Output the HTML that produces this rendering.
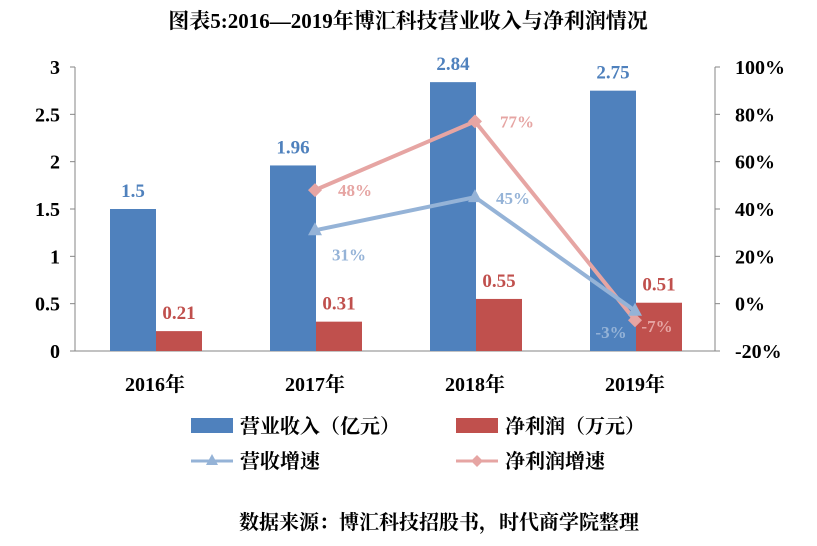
<!DOCTYPE html>
<html><head><meta charset="utf-8">
<style>
body{margin:0;background:#fff;width:817px;height:541px;overflow:hidden}
svg text{font-family:"Liberation Serif","Noto Serif CJK SC",serif;font-weight:bold}
</style></head>
<body>
<svg id="chart" width="817" height="541">
<text x="408" y="28" text-anchor="middle" font-size="21" fill="#000">图表5:2016—2019年博汇科技营业收入与净利润情况</text>
<g id="axes"></g>
<g id="bars"></g>
<g id="lines"></g>
<g>
 <rect x="191" y="418" width="42" height="15" fill="#4f81bd"/>
 <text x="240" y="433" font-size="20">营业收入（亿元）</text>
 <rect x="456" y="418" width="42" height="15" fill="#c0504d"/>
 <text x="505" y="433" font-size="20">净利润（万元）</text>
 <line x1="191" y1="461" x2="233" y2="461" stroke="#95b3d7" stroke-width="3"/>
 <polygon points="212,454 218,465 206,465" fill="#95b3d7"/>
 <text x="240" y="468" font-size="20">营收增速</text>
 <line x1="456" y1="461" x2="498" y2="461" stroke="#e6a5a3" stroke-width="3"/>
 <polygon points="477,455 483,461 477,467 471,461" fill="#e6a5a3"/>
 <text x="505" y="468" font-size="20">净利润增速</text>
</g>
<text x="439" y="529" text-anchor="middle" font-size="20">数据来源：博汇科技招股书，时代商学院整理</text>
</svg>
<script>
const categories=["2016年","2017年","2018年","2019年"];
const revenue=[1.5,1.96,2.84,2.75];
const profit=[0.21,0.31,0.55,0.51];
const revGrowth=[null,31,45,-3];
const profitGrowth=[null,48,77,-7];
const leftTicks=[0,0.5,1,1.5,2,2.5,3];
const rightTicks=[-20,0,20,40,60,80,100];
const NS="http://www.w3.org/2000/svg";
const L=75,R=715,T=67,B=351;
const yL=v=>B-(v/3)*(B-T);
const yR=v=>B-((v+20)/120)*(B-T);
const xC=i=>L+(i+0.5)*(R-L)/categories.length;
function mk(tag,attrs,parent,txt){const e=document.createElementNS(NS,tag);for(const k in attrs)e.setAttribute(k,attrs[k]);if(txt!==undefined)e.textContent=txt;parent.appendChild(e);return e;}
const ax=document.getElementById('axes'),bg=document.getElementById('bars'),lg=document.getElementById('lines');
let e;
e=mk('line',{x1:L,y1:T,x2:L,y2:B,stroke:'#868686'},ax);


e=mk('line',{x1:R,y1:T,x2:R,y2:B,stroke:'#868686'},ax);


e=mk('line',{x1:L,y1:B,x2:R,y2:B,stroke:'#868686'},ax);


leftTicks.forEach(v=>{
 mk('line',{x1:L-5,y1:yL(v),x2:L,y2:yL(v),stroke:'#868686'},ax);
 e=mk('text',{x:L-15,y:yL(v)+7,'text-anchor':'end','font-size':20},ax,String(v));
 
 
});
rightTicks.forEach(v=>{
 mk('line',{x1:R,y1:yR(v),x2:R+5,y2:yR(v),stroke:'#868686'},ax);
 e=mk('text',{x:R+20,y:yR(v)+7,'font-size':20},ax,v+'%');
 
 
});
categories.forEach((c,i)=>{
 e=mk('text',{x:xC(i),y:B+40,'text-anchor':'middle','font-size':20},ax,c);
 
 
 const cx=xC(i);
 e=mk('rect',{x:cx-45,y:yL(revenue[i]),width:46,height:B-yL(revenue[i]),fill:'#4f81bd'},bg);
 
 
 e=mk('text',{x:cx-22,y:yL(revenue[i])-12,'text-anchor':'middle','font-size':19,fill:'#4f81bd'},bg,String(revenue[i]));
 
 
 e=mk('rect',{x:cx+1,y:yL(profit[i]),width:46,height:B-yL(profit[i]),fill:'#c0504d'},bg);
 
 
 e=mk('text',{x:cx+24,y:yL(profit[i])-12,'text-anchor':'middle','font-size':19,fill:'#c0504d'},bg,String(profit[i]));
 
 
});
function series(vals,color,name,marker,labelOff){
 const pts=[];vals.forEach((v,i)=>{if(v!==null)pts.push([xC(i),yR(v),v]);});
 e=mk('polyline',{points:pts.map(p=>p[0]+','+p[1]).join(' '),fill:'none',stroke:color,'stroke-width':4},lg);
 
 
 pts.forEach((p,j)=>{
  const [x,y]=p;
  if(marker==='tri') e=mk('polygon',{points:`${x},${y-8} ${x+7},${y+5} ${x-7},${y+5}`,fill:color},lg);
  else e=mk('polygon',{points:`${x},${y-7} ${x+7},${y} ${x},${y+7} ${x-7},${y}`,fill:color},lg);
  
  
  const o=labelOff[j];
  e=mk('text',{x:x+o[0],y:y+o[1],'text-anchor':'middle','font-size':17,fill:color},lg,p[2]+'%');
  
  
 });
}
series(profitGrowth,'#e6a5a3','profit-growth','dia',[[40,6],[42,6],[22,12]]);
series(revGrowth,'#95b3d7','revenue-growth','tri',[[34,30],[38,7],[-24,27]]);
</script>
</body></html>
